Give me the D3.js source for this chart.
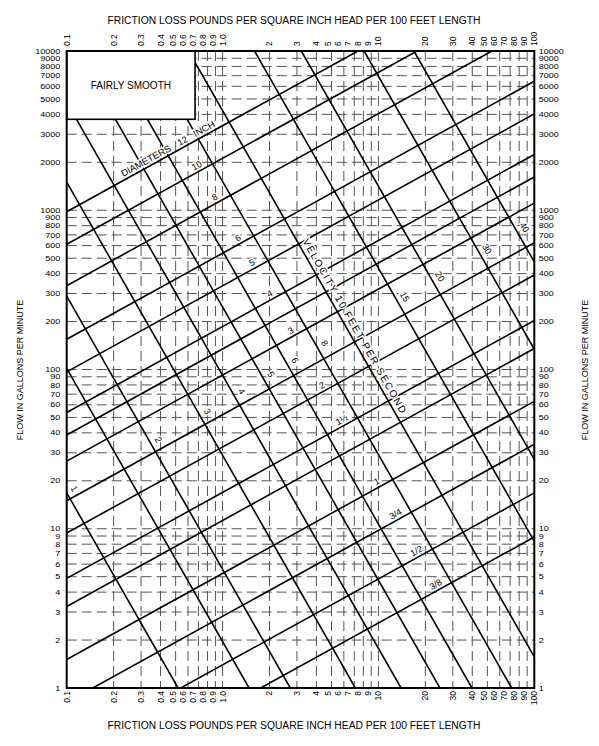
<!DOCTYPE html>
<html>
<head>
<meta charset="utf-8">
<script src="https://cdn.jsdelivr.net/npm/d3@7"></script>
<style>
body { margin: 0; background: #fff; }
svg text { font-family: "Liberation Sans", Arial, Helvetica, sans-serif; fill: #000; }
.note text { stroke: #fff; stroke-width: 3px; paint-order: stroke; stroke-linejoin: round; }
</style>
</head>
<body>
<svg id="chart" width="599" height="746"></svg>
<script>
// x = friction loss, psi per 100 ft ; y = flow, gallons per minute
var xTicks = [0.1,0.2,0.3,0.4,0.5,0.6,0.7,0.8,0.9,1,2,3,4,5,6,7,8,9,10,20,30,40,50,60,70,80,90,100];
var xTickLabels = ["0.1","0.2","0.3","0.4","0.5","0.6","0.7","0.8","0.9","1.0","2","3","4","5","6","7","8","9","10","20","30","40","50","60","70","80","90","100"];
var yTicks = [1,2,3,4,5,6,7,8,9,10,20,30,40,50,60,70,80,90,100,200,300,400,500,600,700,800,900,1000,2000,3000,4000,5000,6000,7000,8000,9000,10000];

// pipe diameter lines (inch), each from one edge point to another [loss, flow]
var diameterLabels = ["12","10","8","6","5","4","","3","","2","1\u00bd","","1","3/4","1/2","3/8"];
var diameterFrom = [[0.1,979],[0.1,611],[0.1,336],[0.1,155],[0.1,96.6],[0.1,53.7],[0.1,38.8],[0.1,26.6],
                    [0.1,15.0],[0.1,9.4],[0.1,4.88],[0.1,3.25],[0.1,1.51],[0.147,1],[0.539,1],[1.755,1]];
var diameterTo = [[7.39,10000],[17.7,10000],[53.5,10000],[100,6457],[100,4027],[100,2239],[100,1618],[100,1109],
                  [100,625],[100,392],[100,203],[100,135.5],[100,63.1],[100,33.9],[100,16.8],[100,8.87]];

// velocity lines (feet per second)
var velocityLabels = ["1","","2","3","4","5","6","8","","15","20","30","40"];
var velocityFrom = [[0.1,16.8],[0.1,101.6],[0.1,289],[0.1,1502],[0.1,4777],[0.1156,10000],[0.1854,10000],
                    [0.333,10000],[0.605,10000],[1.603,10000],[3.20,10000],[8.09,10000],[16.9,10000]];
var velocityTo = [[0.518,1],[1.479,1],[2.72,1],[7.11,1],[13.96,1],[24.8,1],[39.8,1],[71.6,1],
                  [100,1.569],[100,8.34],[100,27.3],[100,134],[100,474]];

// the labels of each family sit where its lines cross these guides
var diameterLabelGuide = [[0.259,10000],[55.6,1]];
var velocityLabelGuide = [[0.1,16.8],[100,850]];

var svg, x, y;

var setup = function() {
  svg = d3.select("#chart");
  x = d3.scaleLog().domain([0.1, 100]).range([66.7, 534.3]);
  y = d3.scaleLog().domain([1, 10000]).range([688, 51]);

  svg.append("defs").append("clipPath").attr("id", "plot")
    .append("rect")
      .attr("x", x(0.1)).attr("y", y(10000))
      .attr("width", x(100) - x(0.1)).attr("height", y(1) - y(10000));
};

var px = function(d) { return [x(d[0]), y(d[1])]; };

var intersect = function(p1, p2, p3, p4) {
  var d = (p1[0]-p2[0])*(p3[1]-p4[1]) - (p1[1]-p2[1])*(p3[0]-p4[0]);
  var t = ((p1[0]-p3[0])*(p3[1]-p4[1]) - (p1[1]-p3[1])*(p3[0]-p4[0])) / d;
  return [p1[0] + t*(p2[0]-p1[0]), p1[1] + t*(p2[1]-p1[1])];
};

var drawGrid = function() {
  var g = svg.append("g").attr("class", "grid")
    .attr("stroke", "#555").attr("stroke-width", 1).attr("stroke-dasharray", "10,5");

  g.selectAll(".gx").data(xTicks.slice(1, -1))
    .enter().append("line")
      .attr("x1", function(d) { return x(d); }).attr("x2", function(d) { return x(d); })
      .attr("y1", y(10000)).attr("y2", y(1));

  g.selectAll(".gy").data(yTicks.slice(1, -1))
    .enter().append("line")
      .attr("y1", function(d) { return y(d); }).attr("y2", function(d) { return y(d); })
      .attr("x1", x(0.1)).attr("x2", x(100));
};

var drawLines = function(from, to) {
  svg.append("g").attr("clip-path", "url(#plot)")
    .selectAll("line").data(from)
    .enter().append("line")
      .attr("x1", function(d) { return x(d[0]); })
      .attr("y1", function(d) { return y(d[1]); })
      .attr("x2", function(d, i) { return x(to[i][0]); })
      .attr("y2", function(d, i) { return y(to[i][1]); })
      .attr("stroke", "#000").attr("stroke-width", 1.6);
};

var lineLabels = function(from, to, labels, guide, dy, size) {
  var g0 = px(guide[0]), g1 = px(guide[1]);
  var out = [];
  from.forEach(function(d, i) {
    var a = px(d), b = px(to[i]);
    var p = intersect(a, b, g0, g1);
    var ang = Math.atan2(b[1] - a[1], b[0] - a[0]) * 180 / Math.PI;
    out.push({ p: p, ang: ang, text: labels[i] });
  });
  var g = svg.append("g").attr("class", "note");
  out.forEach(function(o) {
    if (!o.text) return;
    g.append("text")
      .attr("transform", "translate(" + o.p[0] + "," + o.p[1] + ") rotate(" + o.ang + ")")
      .attr("y", dy).attr("text-anchor", "middle")
      .style("font-size", size + "px")
      .text(o.text);
  });
  return out;
};

var drawAxes = function() {
  // spread crowded tick labels inside each decade
  var pos = xTicks.map(function(d) { return x(d); });
  for (var i = pos.length - 2; i >= 0; i--) {
    var lastInDecade = [1, 10, 100].indexOf(xTicks[i]) >= 0;
    if (!lastInDecade && pos[i] > pos[i+1] - 10) pos[i] = pos[i+1] - 10;
  }
  var top = svg.append("g"), bot = svg.append("g");
  xTickLabels.forEach(function(t, i) {
    top.append("text")
      .attr("transform", "translate(" + pos[i] + "," + (y(10000) - 5) + ") rotate(-90)")
      .attr("dy", "0.35em").style("font-size", "8.5px").text(t);
    bot.append("text")
      .attr("transform", "translate(" + pos[i] + "," + (y(1) + 3) + ") rotate(-90)")
      .attr("dy", "0.35em").attr("text-anchor", "end").style("font-size", "8.5px").text(t);
  });

  // flow labels are squeezed a little in height, as in the print
  svg.append("g").selectAll("text").data(yTicks)
    .enter().append("text")
      .attr("transform", function(d) { return "translate(" + (x(0.1) - 6.5) + "," + y(d) + ") scale(1,0.82)"; })
      .attr("dy", "0.35em").attr("text-anchor", "end").style("font-size", "9px")
      .text(function(d) { return d; });
  svg.append("g").selectAll("text").data(yTicks)
    .enter().append("text")
      .attr("transform", function(d) { return "translate(" + (x(100) + 4.5) + "," + y(d) + ") scale(1,0.82)"; })
      .attr("dy", "0.35em").style("font-size", "9px")
      .text(function(d) { return d; });

  var title = "FRICTION LOSS POUNDS PER SQUARE INCH HEAD PER 100 FEET LENGTH";
  [23.5, 728.5].forEach(function(ty) {
    svg.append("text").attr("x", 294).attr("y", ty).attr("text-anchor", "middle")
      .attr("textLength", 373).attr("lengthAdjust", "spacingAndGlyphs")
      .style("font-size", "10px").text(title);
  });
  [23.2, 588.2].forEach(function(tx) {
    svg.append("text")
      .attr("transform", "translate(" + tx + ",370) rotate(-90)")
      .attr("text-anchor", "middle").style("font-size", "9px")
      .text("FLOW IN GALLONS PER MINUTE");
  });
};

var drawNotes = function(dia, vel) {
  // "DIAMETERS 12 INCH" around the 12 inch label
  var d12 = dia[0];
  var g = svg.append("g").attr("class", "note")
    .attr("transform", "translate(" + d12.p[0] + "," + d12.p[1] + ") rotate(" + d12.ang + ")")
    .style("font-size", "9.5px");
  g.append("text").attr("x", -14).attr("y", -3).attr("text-anchor", "end").text("DIAMETERS");
  g.append("text").attr("x", 13).attr("y", -3).text("INCH");

  // velocity caption on the 10 ft/s line
  var v10 = vel[8];
  svg.append("g").attr("class", "note").append("text")
    .attr("transform", "translate(" + v10.p[0] + "," + v10.p[1] + ") rotate(" + v10.ang + ")")
    .attr("y", -4.5).attr("text-anchor", "middle")
    .attr("textLength", 199).attr("lengthAdjust", "spacing")
    .style("font-size", "10px")
    .text("VELOCITY  10  FEET  PER  SECOND");

  // box in the upper left corner
  svg.append("rect")
    .attr("x", x(0.1)).attr("y", y(10000))
    .attr("width", x(0.666) - x(0.1)).attr("height", y(3725) - y(10000))
    .attr("fill", "#fff").attr("stroke", "#000").attr("stroke-width", 1.6);
  svg.append("text")
    .attr("x", (x(0.1) + x(0.666)) / 2).attr("y", (y(10000) + y(3725)) / 2)
    .attr("dy", "0.35em").attr("text-anchor", "middle").style("font-size", "10px")
    .text("FAIRLY SMOOTH");
};

setup();
drawGrid();
drawLines(diameterFrom, diameterTo);
drawLines(velocityFrom, velocityTo);
var dia = lineLabels(diameterFrom, diameterTo, diameterLabels, diameterLabelGuide, -3, 9);
var vel = lineLabels(velocityFrom, velocityTo, velocityLabels, velocityLabelGuide, -5.5, 9);
drawNotes(dia, vel);
drawAxes();

svg.append("rect")
  .attr("x", x(0.1)).attr("y", y(10000))
  .attr("width", x(100) - x(0.1)).attr("height", y(1) - y(10000))
  .attr("fill", "none").attr("stroke", "#000").attr("stroke-width", 2);
</script>
</body>
</html>
